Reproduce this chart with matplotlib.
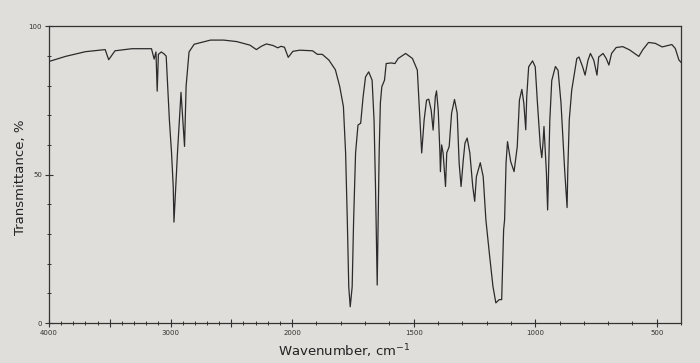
import numpy as np
import matplotlib
matplotlib.use('Agg')
import matplotlib.pyplot as plt
from matplotlib.ticker import FixedLocator, MultipleLocator

# IR spectrum: wavenumber (cm-1) and transmittance (%)
wn = [4000, 3865, 3700, 3538, 3509, 3457, 3318, 3157, 3135, 3120, 3110, 3100,
      3076, 3052, 3036, 3010, 2992, 2978, 2972, 2943, 2914, 2885, 2872, 2848,
      2806, 2671, 2563, 2456, 2347, 2294, 2254, 2212, 2158, 2118, 2091, 2063,
      2032, 1997, 1969, 1916, 1896, 1876, 1849, 1822, 1804, 1789, 1780, 1773,
      1767, 1761, 1753, 1747, 1739, 1729, 1718, 1708, 1698, 1685, 1671, 1663,
      1657, 1650, 1646, 1642, 1637, 1631, 1620, 1613, 1593, 1577, 1564, 1533,
      1505, 1485, 1478, 1467, 1457, 1447, 1438, 1428, 1420, 1411, 1406, 1399,
      1392, 1390, 1385, 1379, 1369, 1364, 1354, 1344, 1332, 1321, 1313, 1305,
      1296, 1289, 1280, 1269, 1257, 1249, 1242, 1226, 1214, 1203, 1189, 1174,
      1162, 1148, 1138, 1134, 1130, 1126, 1120, 1114, 1101, 1087, 1074, 1065,
      1055, 1047, 1039, 1035, 1027, 1011, 1000, 991, 979, 973, 968, 964,
      954, 949, 945, 940, 932, 917, 906, 894, 879, 869, 866, 860,
      850, 839, 829, 820, 805, 795, 783, 773, 759, 746, 739, 721,
      708, 697, 686, 667, 640, 612, 574, 558, 534, 506, 478, 438,
      424, 409, 400]
trans = [88.1, 89.8, 91.4, 92.1, 88.7, 91.7, 92.4, 92.4, 88.9, 91.3, 78.1, 90.5,
         91.3, 90.6, 89.9, 68.6, 57.4, 45.9, 34.0, 57.4, 77.7, 59.5, 79.8, 91.3,
         93.9, 95.3, 95.3, 94.8, 93.6, 92.1, 93.2, 94.0, 93.5, 92.7, 93.2, 92.9,
         89.5, 91.5, 91.9, 91.7, 90.5, 90.5, 88.6, 85.3, 79.6, 72.9, 57.3, 34.7,
         12.2, 5.5, 12.2, 34.7, 57.3, 66.7, 67.3, 76.2, 82.9, 84.6, 81.8, 68.3,
         45.9, 12.8, 34.7, 57.3, 74.1, 79.6, 81.8, 87.4, 87.6, 87.4, 89.1, 90.8,
         89.1, 85.2, 74.1, 57.3, 68.4, 75.1, 75.4, 71.7, 65.0, 76.2, 78.2, 71.7,
         57.3, 51.0, 60.0, 57.3, 46.0, 57.3, 59.4, 70.7, 75.3, 70.7, 53.9, 46.0,
         54.9, 60.6, 62.3, 57.3, 46.0, 41.0, 49.3, 54.0, 49.3, 34.8, 23.7, 12.4,
         6.8, 7.9, 7.9, 20.3, 31.4, 34.8, 54.0, 61.1, 54.4, 51.0, 59.4, 75.1,
         78.7, 74.1, 65.1, 76.2, 86.3, 88.3, 86.3, 74.2, 59.5, 55.7, 60.7, 66.2,
         50.6, 38.1, 51.5, 68.3, 81.7, 86.4, 85.1, 74.1, 51.6, 38.9, 51.6, 68.4,
         78.4, 84.0, 89.1, 89.6, 86.3, 83.5, 88.5, 90.8, 88.5, 83.5, 89.6, 90.8,
         89.1, 86.9, 90.8, 92.8, 93.1, 92.0, 89.8, 92.0, 94.5, 94.2, 93.0, 93.8,
         92.5, 88.6, 87.8]

xticks = [4000, 3500, 3000, 2500, 2000, 1500, 1000, 500]
xtick_labels = ['4000', '', '3000', '', '2000', '1500', '1000', '500']
yticks = [0, 50, 100]


# chart paper: 4000-2000 is drawn at half the scale of 2000-400
def fwd(w):
    w = np.asarray(w, dtype=float)
    return np.where(w > 2000, 2000 + (w - 2000) / 2, w)


def inv(v):
    v = np.asarray(v, dtype=float)
    return np.where(v > 2000, 2000 + (v - 2000) * 2, v)


paper = '#dfdedb'
ink = '#333333'

fig = plt.figure(figsize=(7, 3.63), dpi=100, facecolor=paper)
ax = fig.add_axes([0.07, 0.11, 0.903, 0.818], facecolor=paper)

ax.plot(wn, trans, color='#2b2b2b', lw=0.9)

ax.set_xscale('function', functions=(fwd, inv))
ax.set_xlim(4000, 400)
ax.set_ylim(0, 100)

ax.xaxis.set_major_locator(FixedLocator(xticks))
ax.set_xticklabels(xtick_labels)
ax.xaxis.set_minor_locator(MultipleLocator(100))
ax.yaxis.set_major_locator(FixedLocator(yticks))
ax.yaxis.set_minor_locator(MultipleLocator(10))

ax.tick_params(which='major', direction='inout', length=6, width=0.8,
               color=ink, labelsize=5, labelcolor=ink, pad=2)
ax.tick_params(which='minor', direction='inout', length=3, width=0.7, color=ink)

for s in ax.spines.values():
    s.set_color(ink)
    s.set_linewidth(0.9)

ax.set_xlabel('Wavenumber, cm$^{-1}$', fontsize=9.5, color='#222222')
ax.xaxis.set_label_coords(0.467, -0.065)
ax.set_ylabel('Transmittance, %', fontsize=9.5, color='#222222')
ax.yaxis.set_label_coords(-0.035, 0.49)

fig.savefig('out.png', dpi=100, facecolor=paper)
